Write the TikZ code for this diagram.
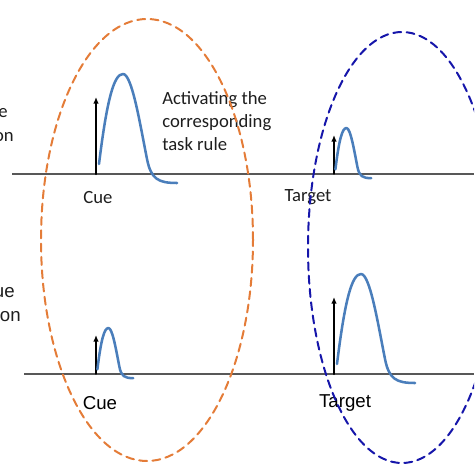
\documentclass[tikz,border=0pt]{standalone}
\usepackage{fontspec}
\setmainfont{Carlito}
\newfontfamily\arialfont{Liberation Sans}
\usetikzlibrary{arrows.meta}
\definecolor{cueorange}{RGB}{228,124,56}
\definecolor{tgtblue}{RGB}{22,22,170}
\definecolor{pulsecol}{RGB}{74,126,187}
\definecolor{axisgray}{RGB}{88,88,88}
\definecolor{textgray}{RGB}{30,30,30}

\begin{document}
\begin{tikzpicture}[x=0.75pt,y=0.75pt, line cap=round, line join=round]
	\useasboundingbox (0,0) rectangle (474,474);
	\clip (0,0) rectangle (474,474);
	
	% ===== styles =====
	\tikzset{
		axis/.style={draw=axisgray, line width=1.1pt, line cap=butt},
		pulse/.style={draw=pulsecol, line width=1.9pt},
		stim/.style={draw=black, -{Latex[length=5pt,width=4.2pt]}},
		lbl/.style={inner sep=0pt, font=\fontsize{14}{17}\selectfont, text=textgray},
		albl/.style={inner sep=0pt, font=\arialfont\fontsize{14}{17}\selectfont, text=black},
		loop/.style={line width=1.5pt, dash pattern=on 6pt off 4pt}
	}
	
	% ===== time axes =====
	\coordinate (axA-l) at (12,300);  \coordinate (axA-r) at (474,300);
	\coordinate (axB-l) at (24,100);  \coordinate (axB-r) at (474,100);
	\draw[axis] (axA-l) -- (axA-r);
	\draw[axis] (axB-l) -- (axB-r);
	
	% ===== stimulus arrows + responses =====
	\foreach \n/\ax/\ay/\s/\lw/\len in {cueA/96/300/1/1.8pt/77, tgtA/334/300/0.46/1pt/39,
		cueB/96/100/0.46/1pt/39, tgtB/334/100/1/1.8pt/77}{
		\coordinate (\n) at (\ax,\ay);
		\coordinate (\n-tip) at (\ax,\ay+\len);
		\draw[stim, line width=\lw] (\n) -- (\n-tip);
		\draw[pulse, shift={(\ax,\ay)}, scale=\s]
			(3,10) .. controls (11,75) and (18,100) .. (27,100)
			.. controls (36,100) and (44,50) .. (51,15)
			.. controls (55,-5) and (62,-9) .. (81,-9);
	}
	
	% ===== labels =====
	\node[lbl] (cueA-lbl) at (98,276) {Cue};
	\node[lbl] (tgtA-lbl) at (308,277) {Target};
	\node[albl] (cueB-lbl) at (100,71) {Cue};
	\node[albl] (tgtB-lbl) at (345,71) {Target};
	\node[lbl, anchor=west, align=left, font=\fontsize{14}{17.25}\selectfont] (rule) at (162,353)
		{Activating the\\corresponding\\task rule};
	
	% cut-off row labels
	\node[lbl, anchor=east] (rowA-1) at (8,361) {e};
	\node[lbl, anchor=east] (rowA-2) at (14,337) {on};
	\node[albl, anchor=east, text=textgray] (rowB-1) at (15,181) {ue};
	\node[albl, anchor=east, text=textgray] (rowB-2) at (21,157) {on};
	
	% ===== dashed groupings =====
	\draw[loop, draw=cueorange] (147,234) ellipse [x radius=106, y radius=221];
	\draw[loop, draw=tgtblue] (402,226.5) ellipse [x radius=94, y radius=215.5];
\end{tikzpicture}
\end{document}
